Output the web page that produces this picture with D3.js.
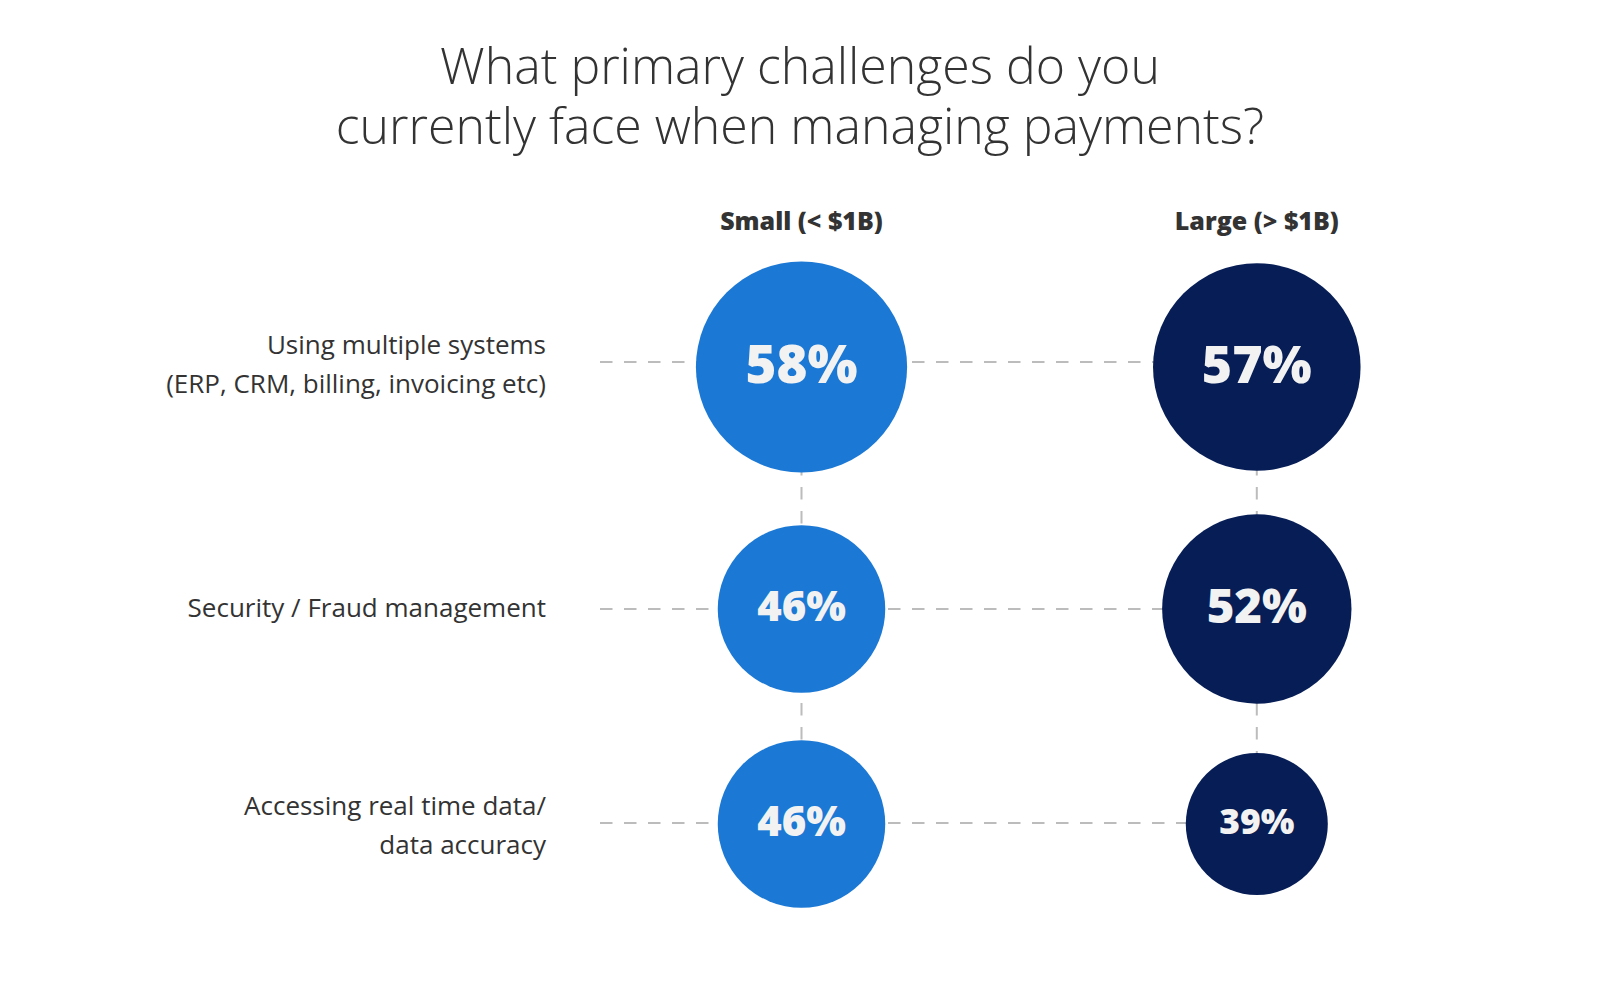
<!DOCTYPE html>
<html>
<head>
<meta charset="utf-8">
<script src="https://cdn.jsdelivr.net/npm/d3@7"></script>
<style>
  body { margin: 0; background: #fff; }
  svg { display: block; font-family: "Open Sans", sans-serif; }
</style>
</head>
<body>
<div id="chart"></div>
<script>
// data
var titleLines = ["What primary challenges do you", "currently face when managing payments?"];
var groups = ["Small (< $1B)", "Large (> $1B)"];
var challenges = [
    ["Using multiple systems", "(ERP, CRM, billing, invoicing etc)"],
    ["Security / Fraud management"],
    ["Accessing real time data/", "data accuracy"]
];
var smallValues = [58, 46, 46];
var largeValues = [57, 52, 39];

var width = 1600, height = 982;
var colors = ["#1b78d4", "#061d55"];

var svg = d3.select("#chart")
    .append("svg")
    .attr("width", width)
    .attr("height", height);

// layout
var colX = d3.scalePoint().domain(groups).range([801.5, 1256.8]);
var lineY = [362, 609, 823];     // dashed row guides
var circleY = [367, 609, 824];   // bubble centres
var labelX = 546;

// radius is linear in the value
var r = d3.scaleLinear().domain([0, 58]).range([0, 105.6]);

// title (one text block, two lines)
svg.append("text")
    .attr("class", "title")
    .attr("text-anchor", "middle")
    .style("font-size", "50px")
    .style("font-weight", 300)
    .style("fill", "#333")
    .selectAll("tspan")
    .data(titleLines)
    .enter()
    .append("tspan")
    .attr("x", 800)
    .attr("y", function(d, i) { return 84 + i * 60; })
    .text(function(d) { return d; });

// column headers
svg.selectAll(".header")
    .data(groups)
    .enter()
    .append("text")
    .attr("class", "header")
    .attr("x", function(d) { return colX(d); })
    .attr("y", 230)
    .attr("text-anchor", "middle")
    .style("font-size", "25px")
    .style("font-weight", 800)
    .style("fill", "#333")
    .text(function(d) { return d; });

// guides
var guides = svg.append("g")
    .style("stroke", "#bcbcbc")
    .style("stroke-width", 2)
    .style("stroke-dasharray", "12.5,11.5");

guides.selectAll(".hline")
    .data(challenges)
    .enter()
    .append("line")
    .attr("x1", 600)
    .attr("x2", colX(groups[1]))
    .attr("y1", function(d, i) { return lineY[i]; })
    .attr("y2", function(d, i) { return lineY[i]; });

guides.selectAll(".vline")
    .data(groups)
    .enter()
    .append("line")
    .attr("x1", function(d) { return colX(d); })
    .attr("x2", function(d) { return colX(d); })
    .attr("y1", circleY[0])
    .attr("y2", circleY[circleY.length - 1]);

// row labels
challenges.forEach(function(lines, i) {
    var first = lines.length > 1 ? lineY[i] - 8 : lineY[i] + 8;
    svg.selectAll(".label" + i)
        .data(lines)
        .enter()
        .append("text")
        .attr("x", labelX)
        .attr("y", function(d, j) { return first + j * 38.5; })
        .attr("text-anchor", "end")
        .style("font-size", "26px")
        .style("fill", "#333")
        .text(function(d) { return d; });
});

// bubbles
var series = [smallValues, largeValues];
series.forEach(function(values, s) {
    var g = svg.append("g");
    var cells = g.selectAll("g")
        .data(values)
        .enter()
        .append("g")
        .attr("transform", function(d, i) {
            return "translate(" + colX(groups[s]) + "," + circleY[i] + ")";
        });

    cells.append("circle")
        .attr("r", function(d) { return r(d); })
        .style("fill", colors[s]);

    cells.append("text")
        .attr("text-anchor", "middle")
        .attr("y", function(d) { var fs = r(d) * 0.5; return fs * 0.357 - 3; })
        .style("font-size", function(d) { return (r(d) * 0.5) + "px"; })
        .style("font-weight", 800)
        .style("fill", "#f2f2f2")
        .text(function(d) { return d + "%"; });
});
</script>
</body>
</html>
